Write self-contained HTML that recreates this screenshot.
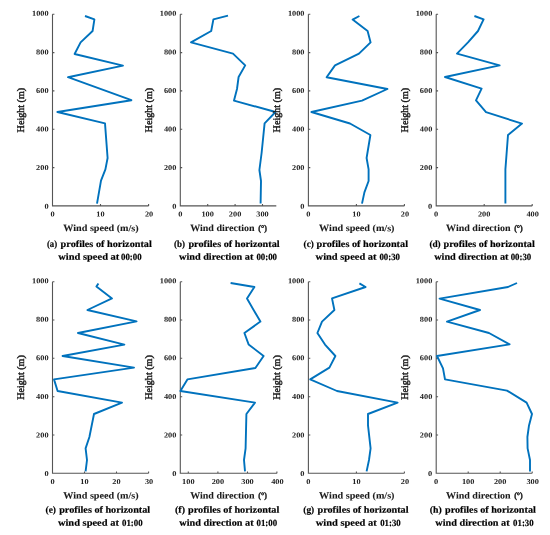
<!DOCTYPE html>
<html lang="en"><head><meta charset="utf-8"><title>Wind profiles</title>
<style>
html,body{margin:0;padding:0;background:#fff;}
body{width:550px;height:535px;overflow:hidden;}
svg{display:block;}
text{font-family:"Liberation Serif","DejaVu Serif",serif;fill:#1a1a1a;text-rendering:geometricPrecision;}
.tk{font-size:7.5px;font-weight:bold;fill:#222;}
.xl{font-size:9.4px;font-weight:bold;fill:#1a1a1a;stroke:#1a1a1a;stroke-width:0.08px;}
.yl{font-size:10px;stroke:#1a1a1a;stroke-width:0.45px;}
.cp{font-size:9.5px;font-weight:bold;fill:#000;stroke:#000;stroke-width:0.18px;}
.ax{stroke:#555555;stroke-width:1.1;fill:none;}
.ln{stroke:#0072bd;stroke-width:1.9;fill:none;stroke-linejoin:round;stroke-linecap:butt;}
</style></head><body>
<svg width="550" height="535" viewBox="0 0 550 535">
<rect width="550" height="535" fill="#fff"/>
<g>
<path class="ax" d="M52.5 14.3V205.9H148.6M52.5 205.9h1.9M52.5 167.6h1.9M52.5 129.3h1.9M52.5 90.9h1.9M52.5 52.6h1.9M52.5 14.3h1.9M52.5 205.9v-1.9M100.5 205.9v-1.9M148.6 205.9v-1.9"/>
<text class="tk" x="48.6" y="208.7" transform="rotate(0.03 48.6 208.7)" text-anchor="end" textLength="4.2" lengthAdjust="spacingAndGlyphs">0</text>
<text class="tk" x="48.6" y="170.1" transform="rotate(0.03 48.6 170.1)" text-anchor="end" textLength="12.5" lengthAdjust="spacingAndGlyphs">200</text>
<text class="tk" x="48.6" y="131.5" transform="rotate(0.03 48.6 131.5)" text-anchor="end" textLength="12.5" lengthAdjust="spacingAndGlyphs">400</text>
<text class="tk" x="48.6" y="92.9" transform="rotate(0.03 48.6 92.9)" text-anchor="end" textLength="12.5" lengthAdjust="spacingAndGlyphs">600</text>
<text class="tk" x="48.6" y="54.4" transform="rotate(0.03 48.6 54.4)" text-anchor="end" textLength="12.5" lengthAdjust="spacingAndGlyphs">800</text>
<text class="tk" x="48.6" y="15.8" transform="rotate(0.03 48.6 15.8)" text-anchor="end" textLength="16.6" lengthAdjust="spacingAndGlyphs">1000</text>
<text class="tk" x="52.5" y="216.6" transform="rotate(0.03 52.5 216.6)" text-anchor="middle" textLength="4.2" lengthAdjust="spacingAndGlyphs">0</text>
<text class="tk" x="100.5" y="216.6" transform="rotate(0.03 100.5 216.6)" text-anchor="middle" textLength="8.3" lengthAdjust="spacingAndGlyphs">10</text>
<text class="tk" x="149.1" y="216.6" transform="rotate(0.03 149.1 216.6)" text-anchor="middle" textLength="8.3" lengthAdjust="spacingAndGlyphs">20</text>
<text class="xl" x="63.3" y="231.1" transform="rotate(0.03 63.3 231.1)" textLength="75.4" lengthAdjust="spacingAndGlyphs">Wind speed (m/s)</text>
<text class="yl" transform="translate(24.0 110.1) rotate(-90)" text-anchor="middle" textLength="44.6" lengthAdjust="spacingAndGlyphs">Height (m)</text>
<text class="cp" x="46.9" y="246.9" transform="rotate(0.03 46.9 246.9)" textLength="10.2" lengthAdjust="spacingAndGlyphs">(a)</text>
<text class="cp" x="60.6" y="246.9" transform="rotate(0.03 60.6 246.9)" textLength="91.2" lengthAdjust="spacingAndGlyphs">profiles of horizontal</text>
<text class="cp" x="58.3" y="259.7" transform="rotate(0.03 58.3 259.7)" textLength="61.0" lengthAdjust="spacingAndGlyphs">wind speed at</text>
<text class="cp" x="121.0" y="259.7" transform="rotate(0.03 121.0 259.7)" textLength="20.6" lengthAdjust="spacingAndGlyphs">00:00</text>
<polyline class="ln" points="85.0,16.0 94.4,19.4 92.6,31.0 80.6,42.4 74.6,54.0 123.0,65.6 68.0,77.2 131.4,100.2 57.4,112.0 105.0,123.4 107.6,158.0 105.4,169.4 101.0,180.6 97.0,203.6"/>
</g>
<g>
<path class="ax" d="M180.3 14.3V205.9H276.3M180.3 205.9h1.9M180.3 167.6h1.9M180.3 129.3h1.9M180.3 90.9h1.9M180.3 52.6h1.9M180.3 14.3h1.9M180.3 205.9v-1.9M207.7 205.9v-1.9M235.1 205.9v-1.9M262.5 205.9v-1.9"/>
<text class="tk" x="176.4" y="208.7" transform="rotate(0.03 176.4 208.7)" text-anchor="end" textLength="4.2" lengthAdjust="spacingAndGlyphs">0</text>
<text class="tk" x="176.4" y="170.1" transform="rotate(0.03 176.4 170.1)" text-anchor="end" textLength="12.5" lengthAdjust="spacingAndGlyphs">200</text>
<text class="tk" x="176.4" y="131.5" transform="rotate(0.03 176.4 131.5)" text-anchor="end" textLength="12.5" lengthAdjust="spacingAndGlyphs">400</text>
<text class="tk" x="176.4" y="92.9" transform="rotate(0.03 176.4 92.9)" text-anchor="end" textLength="12.5" lengthAdjust="spacingAndGlyphs">600</text>
<text class="tk" x="176.4" y="54.4" transform="rotate(0.03 176.4 54.4)" text-anchor="end" textLength="12.5" lengthAdjust="spacingAndGlyphs">800</text>
<text class="tk" x="176.4" y="15.8" transform="rotate(0.03 176.4 15.8)" text-anchor="end" textLength="16.6" lengthAdjust="spacingAndGlyphs">1000</text>
<text class="tk" x="180.3" y="216.6" transform="rotate(0.03 180.3 216.6)" text-anchor="middle" textLength="4.2" lengthAdjust="spacingAndGlyphs">0</text>
<text class="tk" x="207.7" y="216.6" transform="rotate(0.03 207.7 216.6)" text-anchor="middle" textLength="12.5" lengthAdjust="spacingAndGlyphs">100</text>
<text class="tk" x="235.1" y="216.6" transform="rotate(0.03 235.1 216.6)" text-anchor="middle" textLength="12.5" lengthAdjust="spacingAndGlyphs">200</text>
<text class="tk" x="262.5" y="216.6" transform="rotate(0.03 262.5 216.6)" text-anchor="middle" textLength="12.5" lengthAdjust="spacingAndGlyphs">300</text>
<text class="xl" x="190.2" y="231.1" transform="rotate(0.03 190.2 231.1)" textLength="64.4" lengthAdjust="spacingAndGlyphs">Wind direction</text>
<text class="xl" x="258.3" y="230.9" transform="rotate(0.03 258.3 230.9)" style="font-size:8.6px;stroke-width:0.4px" textLength="8.6" lengthAdjust="spacingAndGlyphs">(°)</text>
<text class="yl" transform="translate(151.8 110.1) rotate(-90)" text-anchor="middle" textLength="44.6" lengthAdjust="spacingAndGlyphs">Height (m)</text>
<text class="cp" x="174.0" y="246.9" transform="rotate(0.03 174.0 246.9)" textLength="11.0" lengthAdjust="spacingAndGlyphs">(b)</text>
<text class="cp" x="188.4" y="246.9" transform="rotate(0.03 188.4 246.9)" textLength="91.2" lengthAdjust="spacingAndGlyphs">profiles of horizontal</text>
<text class="cp" x="179.0" y="259.7" transform="rotate(0.03 179.0 259.7)" textLength="74.3" lengthAdjust="spacingAndGlyphs">wind direction at</text>
<text class="cp" x="256.4" y="259.7" transform="rotate(0.03 256.4 259.7)" textLength="20.6" lengthAdjust="spacingAndGlyphs">00:00</text>
<polyline class="ln" points="228.0,15.6 213.4,19.4 211.2,31.0 191.0,42.4 233.0,53.6 245.2,65.4 238.6,77.0 237.0,89.0 234.0,100.6 275.5,112.0 264.6,123.4 261.6,153.0 259.4,170.0 261.0,181.0 260.6,203.6"/>
</g>
<g>
<path class="ax" d="M308.4 14.3V205.9H404.4M308.4 205.9h1.9M308.4 167.6h1.9M308.4 129.3h1.9M308.4 90.9h1.9M308.4 52.6h1.9M308.4 14.3h1.9M308.4 205.9v-1.9M356.4 205.9v-1.9M404.4 205.9v-1.9"/>
<text class="tk" x="304.5" y="208.7" transform="rotate(0.03 304.5 208.7)" text-anchor="end" textLength="4.2" lengthAdjust="spacingAndGlyphs">0</text>
<text class="tk" x="304.5" y="170.1" transform="rotate(0.03 304.5 170.1)" text-anchor="end" textLength="12.5" lengthAdjust="spacingAndGlyphs">200</text>
<text class="tk" x="304.5" y="131.5" transform="rotate(0.03 304.5 131.5)" text-anchor="end" textLength="12.5" lengthAdjust="spacingAndGlyphs">400</text>
<text class="tk" x="304.5" y="92.9" transform="rotate(0.03 304.5 92.9)" text-anchor="end" textLength="12.5" lengthAdjust="spacingAndGlyphs">600</text>
<text class="tk" x="304.5" y="54.4" transform="rotate(0.03 304.5 54.4)" text-anchor="end" textLength="12.5" lengthAdjust="spacingAndGlyphs">800</text>
<text class="tk" x="304.5" y="15.8" transform="rotate(0.03 304.5 15.8)" text-anchor="end" textLength="16.6" lengthAdjust="spacingAndGlyphs">1000</text>
<text class="tk" x="308.4" y="216.6" transform="rotate(0.03 308.4 216.6)" text-anchor="middle" textLength="4.2" lengthAdjust="spacingAndGlyphs">0</text>
<text class="tk" x="356.4" y="216.6" transform="rotate(0.03 356.4 216.6)" text-anchor="middle" textLength="8.3" lengthAdjust="spacingAndGlyphs">10</text>
<text class="tk" x="404.9" y="216.6" transform="rotate(0.03 404.9 216.6)" text-anchor="middle" textLength="8.3" lengthAdjust="spacingAndGlyphs">20</text>
<text class="xl" x="319.1" y="231.1" transform="rotate(0.03 319.1 231.1)" textLength="75.4" lengthAdjust="spacingAndGlyphs">Wind speed (m/s)</text>
<text class="yl" transform="translate(279.9 110.1) rotate(-90)" text-anchor="middle" textLength="44.6" lengthAdjust="spacingAndGlyphs">Height (m)</text>
<text class="cp" x="303.6" y="246.9" transform="rotate(0.03 303.6 246.9)" textLength="10.2" lengthAdjust="spacingAndGlyphs">(c)</text>
<text class="cp" x="316.6" y="246.9" transform="rotate(0.03 316.6 246.9)" textLength="91.4" lengthAdjust="spacingAndGlyphs">profiles of horizontal</text>
<text class="cp" x="315.6" y="259.7" transform="rotate(0.03 315.6 259.7)" textLength="61.0" lengthAdjust="spacingAndGlyphs">wind speed at</text>
<text class="cp" x="379.4" y="259.7" transform="rotate(0.03 379.4 259.7)" textLength="20.6" lengthAdjust="spacingAndGlyphs">00:30</text>
<polyline class="ln" points="359.4,16.0 352.6,19.6 367.6,31.0 370.6,42.4 359.0,53.6 335.0,65.4 326.6,77.2 387.4,89.0 362.0,100.6 311.4,112.0 350.0,123.5 370.4,135.0 366.6,158.0 368.6,169.4 368.6,181.0 364.4,192.4 362.0,203.6"/>
</g>
<g>
<path class="ax" d="M436.2 14.3V205.9H532.2M436.2 205.9h1.9M436.2 167.6h1.9M436.2 129.3h1.9M436.2 90.9h1.9M436.2 52.6h1.9M436.2 14.3h1.9M436.2 205.9v-1.9M484.2 205.9v-1.9M532.2 205.9v-1.9"/>
<text class="tk" x="432.3" y="208.7" transform="rotate(0.03 432.3 208.7)" text-anchor="end" textLength="4.2" lengthAdjust="spacingAndGlyphs">0</text>
<text class="tk" x="432.3" y="170.1" transform="rotate(0.03 432.3 170.1)" text-anchor="end" textLength="12.5" lengthAdjust="spacingAndGlyphs">200</text>
<text class="tk" x="432.3" y="131.5" transform="rotate(0.03 432.3 131.5)" text-anchor="end" textLength="12.5" lengthAdjust="spacingAndGlyphs">400</text>
<text class="tk" x="432.3" y="92.9" transform="rotate(0.03 432.3 92.9)" text-anchor="end" textLength="12.5" lengthAdjust="spacingAndGlyphs">600</text>
<text class="tk" x="432.3" y="54.4" transform="rotate(0.03 432.3 54.4)" text-anchor="end" textLength="12.5" lengthAdjust="spacingAndGlyphs">800</text>
<text class="tk" x="432.3" y="15.8" transform="rotate(0.03 432.3 15.8)" text-anchor="end" textLength="16.6" lengthAdjust="spacingAndGlyphs">1000</text>
<text class="tk" x="436.2" y="216.6" transform="rotate(0.03 436.2 216.6)" text-anchor="middle" textLength="4.2" lengthAdjust="spacingAndGlyphs">0</text>
<text class="tk" x="484.2" y="216.6" transform="rotate(0.03 484.2 216.6)" text-anchor="middle" textLength="12.5" lengthAdjust="spacingAndGlyphs">200</text>
<text class="tk" x="532.7" y="216.6" transform="rotate(0.03 532.7 216.6)" text-anchor="middle" textLength="12.5" lengthAdjust="spacingAndGlyphs">400</text>
<text class="xl" x="446.1" y="231.1" transform="rotate(0.03 446.1 231.1)" textLength="64.4" lengthAdjust="spacingAndGlyphs">Wind direction</text>
<text class="xl" x="514.2" y="230.9" transform="rotate(0.03 514.2 230.9)" style="font-size:8.6px;stroke-width:0.4px" textLength="8.6" lengthAdjust="spacingAndGlyphs">(°)</text>
<text class="yl" transform="translate(407.7 110.1) rotate(-90)" text-anchor="middle" textLength="44.6" lengthAdjust="spacingAndGlyphs">Height (m)</text>
<text class="cp" x="429.4" y="246.9" transform="rotate(0.03 429.4 246.9)" textLength="11.3" lengthAdjust="spacingAndGlyphs">(d)</text>
<text class="cp" x="443.5" y="246.9" transform="rotate(0.03 443.5 246.9)" textLength="91.3" lengthAdjust="spacingAndGlyphs">profiles of horizontal</text>
<text class="cp" x="434.2" y="259.7" transform="rotate(0.03 434.2 259.7)" textLength="74.3" lengthAdjust="spacingAndGlyphs">wind direction at</text>
<text class="cp" x="510.7" y="259.7" transform="rotate(0.03 510.7 259.7)" textLength="20.6" lengthAdjust="spacingAndGlyphs">00:30</text>
<polyline class="ln" points="474.4,16.0 483.6,19.4 478.0,31.0 468.0,42.4 457.0,53.6 499.6,65.4 445.0,77.0 481.6,88.6 476.0,100.4 486.0,112.2 522.0,123.6 508.0,135.0 505.4,169.4 505.4,203.6"/>
</g>
<g>
<path class="ax" d="M52.5 281.7V473.3H148.6M52.5 473.3h1.9M52.5 435.0h1.9M52.5 396.7h1.9M52.5 358.3h1.9M52.5 320.0h1.9M52.5 281.7h1.9M52.5 473.3v-1.9M84.5 473.3v-1.9M116.5 473.3v-1.9M148.6 473.3v-1.9"/>
<text class="tk" x="48.6" y="476.1" transform="rotate(0.03 48.6 476.1)" text-anchor="end" textLength="4.2" lengthAdjust="spacingAndGlyphs">0</text>
<text class="tk" x="48.6" y="437.5" transform="rotate(0.03 48.6 437.5)" text-anchor="end" textLength="12.5" lengthAdjust="spacingAndGlyphs">200</text>
<text class="tk" x="48.6" y="398.9" transform="rotate(0.03 48.6 398.9)" text-anchor="end" textLength="12.5" lengthAdjust="spacingAndGlyphs">400</text>
<text class="tk" x="48.6" y="360.3" transform="rotate(0.03 48.6 360.3)" text-anchor="end" textLength="12.5" lengthAdjust="spacingAndGlyphs">600</text>
<text class="tk" x="48.6" y="321.8" transform="rotate(0.03 48.6 321.8)" text-anchor="end" textLength="12.5" lengthAdjust="spacingAndGlyphs">800</text>
<text class="tk" x="48.6" y="283.2" transform="rotate(0.03 48.6 283.2)" text-anchor="end" textLength="16.6" lengthAdjust="spacingAndGlyphs">1000</text>
<text class="tk" x="52.5" y="484.0" transform="rotate(0.03 52.5 484.0)" text-anchor="middle" textLength="4.2" lengthAdjust="spacingAndGlyphs">0</text>
<text class="tk" x="84.5" y="484.0" transform="rotate(0.03 84.5 484.0)" text-anchor="middle" textLength="8.3" lengthAdjust="spacingAndGlyphs">10</text>
<text class="tk" x="116.5" y="484.0" transform="rotate(0.03 116.5 484.0)" text-anchor="middle" textLength="8.3" lengthAdjust="spacingAndGlyphs">20</text>
<text class="tk" x="149.1" y="484.0" transform="rotate(0.03 149.1 484.0)" text-anchor="middle" textLength="8.3" lengthAdjust="spacingAndGlyphs">30</text>
<text class="xl" x="63.3" y="498.5" transform="rotate(0.03 63.3 498.5)" textLength="75.4" lengthAdjust="spacingAndGlyphs">Wind speed (m/s)</text>
<text class="yl" transform="translate(24.0 377.5) rotate(-90)" text-anchor="middle" textLength="44.6" lengthAdjust="spacingAndGlyphs">Height (m)</text>
<text class="cp" x="45.5" y="512.7" transform="rotate(0.03 45.5 512.7)" textLength="10.5" lengthAdjust="spacingAndGlyphs">(e)</text>
<text class="cp" x="59.2" y="512.7" transform="rotate(0.03 59.2 512.7)" textLength="91.0" lengthAdjust="spacingAndGlyphs">profiles of horizontal</text>
<text class="cp" x="57.9" y="525.7" transform="rotate(0.03 57.9 525.7)" textLength="61.0" lengthAdjust="spacingAndGlyphs">wind speed at</text>
<text class="cp" x="122.0" y="525.7" transform="rotate(0.03 122.0 525.7)" textLength="20.6" lengthAdjust="spacingAndGlyphs">01:00</text>
<polyline class="ln" points="98.4,283.4 96.4,286.6 112.0,298.4 87.4,310.0 136.6,321.4 78.0,333.0 124.4,344.6 62.6,356.0 134.0,367.6 54.0,379.4 57.6,391.0 122.0,402.6 94.0,414.0 89.4,437.0 85.6,448.4 87.0,460.0 85.6,471.4"/>
</g>
<g>
<path class="ax" d="M180.3 281.7V473.3H277.1M180.3 473.3h1.9M180.3 435.0h1.9M180.3 396.7h1.9M180.3 358.3h1.9M180.3 320.0h1.9M180.3 281.7h1.9M188.3 473.3v-1.9M217.9 473.3v-1.9M247.5 473.3v-1.9M276.9 473.3v-1.9"/>
<text class="tk" x="176.4" y="476.1" transform="rotate(0.03 176.4 476.1)" text-anchor="end" textLength="4.2" lengthAdjust="spacingAndGlyphs">0</text>
<text class="tk" x="176.4" y="437.5" transform="rotate(0.03 176.4 437.5)" text-anchor="end" textLength="12.5" lengthAdjust="spacingAndGlyphs">200</text>
<text class="tk" x="176.4" y="398.9" transform="rotate(0.03 176.4 398.9)" text-anchor="end" textLength="12.5" lengthAdjust="spacingAndGlyphs">400</text>
<text class="tk" x="176.4" y="360.3" transform="rotate(0.03 176.4 360.3)" text-anchor="end" textLength="12.5" lengthAdjust="spacingAndGlyphs">600</text>
<text class="tk" x="176.4" y="321.8" transform="rotate(0.03 176.4 321.8)" text-anchor="end" textLength="12.5" lengthAdjust="spacingAndGlyphs">800</text>
<text class="tk" x="176.4" y="283.2" transform="rotate(0.03 176.4 283.2)" text-anchor="end" textLength="16.6" lengthAdjust="spacingAndGlyphs">1000</text>
<text class="tk" x="188.3" y="484.0" transform="rotate(0.03 188.3 484.0)" text-anchor="middle" textLength="12.5" lengthAdjust="spacingAndGlyphs">100</text>
<text class="tk" x="217.9" y="484.0" transform="rotate(0.03 217.9 484.0)" text-anchor="middle" textLength="12.5" lengthAdjust="spacingAndGlyphs">200</text>
<text class="tk" x="247.5" y="484.0" transform="rotate(0.03 247.5 484.0)" text-anchor="middle" textLength="12.5" lengthAdjust="spacingAndGlyphs">300</text>
<text class="tk" x="277.4" y="484.0" transform="rotate(0.03 277.4 484.0)" text-anchor="middle" textLength="12.5" lengthAdjust="spacingAndGlyphs">400</text>
<text class="xl" x="190.2" y="498.5" transform="rotate(0.03 190.2 498.5)" textLength="64.4" lengthAdjust="spacingAndGlyphs">Wind direction</text>
<text class="xl" x="258.3" y="498.3" transform="rotate(0.03 258.3 498.3)" style="font-size:8.6px;stroke-width:0.4px" textLength="8.6" lengthAdjust="spacingAndGlyphs">(°)</text>
<text class="yl" transform="translate(151.8 377.5) rotate(-90)" text-anchor="middle" textLength="44.6" lengthAdjust="spacingAndGlyphs">Height (m)</text>
<text class="cp" x="175.0" y="512.7" transform="rotate(0.03 175.0 512.7)" textLength="10.0" lengthAdjust="spacingAndGlyphs">(f)</text>
<text class="cp" x="188.0" y="512.7" transform="rotate(0.03 188.0 512.7)" textLength="91.3" lengthAdjust="spacingAndGlyphs">profiles of horizontal</text>
<text class="cp" x="179.3" y="525.7" transform="rotate(0.03 179.3 525.7)" textLength="74.3" lengthAdjust="spacingAndGlyphs">wind direction at</text>
<text class="cp" x="256.5" y="525.7" transform="rotate(0.03 256.5 525.7)" textLength="20.6" lengthAdjust="spacingAndGlyphs">01:00</text>
<polyline class="ln" points="230.6,283.0 254.4,287.0 247.0,298.6 260.4,321.6 244.4,333.0 248.6,344.4 263.6,356.0 255.4,368.0 187.4,379.4 180.4,391.0 255.0,402.6 246.4,414.0 245.6,448.4 244.0,460.0 245.0,471.4"/>
</g>
<g>
<path class="ax" d="M308.4 281.7V473.3H404.4M308.4 473.3h1.9M308.4 435.0h1.9M308.4 396.7h1.9M308.4 358.3h1.9M308.4 320.0h1.9M308.4 281.7h1.9M308.4 473.3v-1.9M356.4 473.3v-1.9M404.4 473.3v-1.9"/>
<text class="tk" x="304.5" y="476.1" transform="rotate(0.03 304.5 476.1)" text-anchor="end" textLength="4.2" lengthAdjust="spacingAndGlyphs">0</text>
<text class="tk" x="304.5" y="437.5" transform="rotate(0.03 304.5 437.5)" text-anchor="end" textLength="12.5" lengthAdjust="spacingAndGlyphs">200</text>
<text class="tk" x="304.5" y="398.9" transform="rotate(0.03 304.5 398.9)" text-anchor="end" textLength="12.5" lengthAdjust="spacingAndGlyphs">400</text>
<text class="tk" x="304.5" y="360.3" transform="rotate(0.03 304.5 360.3)" text-anchor="end" textLength="12.5" lengthAdjust="spacingAndGlyphs">600</text>
<text class="tk" x="304.5" y="321.8" transform="rotate(0.03 304.5 321.8)" text-anchor="end" textLength="12.5" lengthAdjust="spacingAndGlyphs">800</text>
<text class="tk" x="304.5" y="283.2" transform="rotate(0.03 304.5 283.2)" text-anchor="end" textLength="16.6" lengthAdjust="spacingAndGlyphs">1000</text>
<text class="tk" x="308.4" y="484.0" transform="rotate(0.03 308.4 484.0)" text-anchor="middle" textLength="4.2" lengthAdjust="spacingAndGlyphs">0</text>
<text class="tk" x="356.4" y="484.0" transform="rotate(0.03 356.4 484.0)" text-anchor="middle" textLength="8.3" lengthAdjust="spacingAndGlyphs">10</text>
<text class="tk" x="404.9" y="484.0" transform="rotate(0.03 404.9 484.0)" text-anchor="middle" textLength="8.3" lengthAdjust="spacingAndGlyphs">20</text>
<text class="xl" x="319.1" y="498.5" transform="rotate(0.03 319.1 498.5)" textLength="75.4" lengthAdjust="spacingAndGlyphs">Wind speed (m/s)</text>
<text class="yl" transform="translate(279.9 377.5) rotate(-90)" text-anchor="middle" textLength="44.6" lengthAdjust="spacingAndGlyphs">Height (m)</text>
<text class="cp" x="303.3" y="512.7" transform="rotate(0.03 303.3 512.7)" textLength="10.9" lengthAdjust="spacingAndGlyphs">(g)</text>
<text class="cp" x="317.5" y="512.7" transform="rotate(0.03 317.5 512.7)" textLength="91.0" lengthAdjust="spacingAndGlyphs">profiles of horizontal</text>
<text class="cp" x="315.7" y="525.7" transform="rotate(0.03 315.7 525.7)" textLength="61.0" lengthAdjust="spacingAndGlyphs">wind speed at</text>
<text class="cp" x="380.2" y="525.7" transform="rotate(0.03 380.2 525.7)" textLength="20.6" lengthAdjust="spacingAndGlyphs">01:30</text>
<polyline class="ln" points="359.4,283.4 365.6,287.0 332.0,298.4 334.4,310.0 322.0,321.6 317.4,333.0 325.0,344.6 335.4,356.0 329.4,367.6 310.2,379.4 337.0,391.0 397.6,402.6 368.0,414.0 368.0,425.4 370.6,448.4 369.0,460.0 366.6,471.4"/>
</g>
<g>
<path class="ax" d="M436.2 281.7V473.3H532.2M436.2 473.3h1.9M436.2 435.0h1.9M436.2 396.7h1.9M436.2 358.3h1.9M436.2 320.0h1.9M436.2 281.7h1.9M436.2 473.3v-1.9M468.2 473.3v-1.9M500.2 473.3v-1.9M532.2 473.3v-1.9"/>
<text class="tk" x="432.3" y="476.1" transform="rotate(0.03 432.3 476.1)" text-anchor="end" textLength="4.2" lengthAdjust="spacingAndGlyphs">0</text>
<text class="tk" x="432.3" y="437.5" transform="rotate(0.03 432.3 437.5)" text-anchor="end" textLength="12.5" lengthAdjust="spacingAndGlyphs">200</text>
<text class="tk" x="432.3" y="398.9" transform="rotate(0.03 432.3 398.9)" text-anchor="end" textLength="12.5" lengthAdjust="spacingAndGlyphs">400</text>
<text class="tk" x="432.3" y="360.3" transform="rotate(0.03 432.3 360.3)" text-anchor="end" textLength="12.5" lengthAdjust="spacingAndGlyphs">600</text>
<text class="tk" x="432.3" y="321.8" transform="rotate(0.03 432.3 321.8)" text-anchor="end" textLength="12.5" lengthAdjust="spacingAndGlyphs">800</text>
<text class="tk" x="432.3" y="283.2" transform="rotate(0.03 432.3 283.2)" text-anchor="end" textLength="16.6" lengthAdjust="spacingAndGlyphs">1000</text>
<text class="tk" x="436.2" y="484.0" transform="rotate(0.03 436.2 484.0)" text-anchor="middle" textLength="4.2" lengthAdjust="spacingAndGlyphs">0</text>
<text class="tk" x="468.2" y="484.0" transform="rotate(0.03 468.2 484.0)" text-anchor="middle" textLength="12.5" lengthAdjust="spacingAndGlyphs">100</text>
<text class="tk" x="500.2" y="484.0" transform="rotate(0.03 500.2 484.0)" text-anchor="middle" textLength="12.5" lengthAdjust="spacingAndGlyphs">200</text>
<text class="tk" x="532.7" y="484.0" transform="rotate(0.03 532.7 484.0)" text-anchor="middle" textLength="12.5" lengthAdjust="spacingAndGlyphs">300</text>
<text class="xl" x="446.1" y="498.5" transform="rotate(0.03 446.1 498.5)" textLength="64.4" lengthAdjust="spacingAndGlyphs">Wind direction</text>
<text class="xl" x="514.2" y="498.3" transform="rotate(0.03 514.2 498.3)" style="font-size:8.6px;stroke-width:0.4px" textLength="8.6" lengthAdjust="spacingAndGlyphs">(°)</text>
<text class="yl" transform="translate(407.7 377.5) rotate(-90)" text-anchor="middle" textLength="44.6" lengthAdjust="spacingAndGlyphs">Height (m)</text>
<text class="cp" x="429.8" y="512.7" transform="rotate(0.03 429.8 512.7)" textLength="12.0" lengthAdjust="spacingAndGlyphs">(h)</text>
<text class="cp" x="445.0" y="512.7" transform="rotate(0.03 445.0 512.7)" textLength="90.8" lengthAdjust="spacingAndGlyphs">profiles of horizontal</text>
<text class="cp" x="435.3" y="525.7" transform="rotate(0.03 435.3 525.7)" textLength="74.3" lengthAdjust="spacingAndGlyphs">wind direction at</text>
<text class="cp" x="513.1" y="525.7" transform="rotate(0.03 513.1 525.7)" textLength="20.6" lengthAdjust="spacingAndGlyphs">01:30</text>
<polyline class="ln" points="517.0,283.0 508.0,287.0 439.6,298.6 480.0,310.0 447.0,321.6 489.0,333.0 509.6,344.4 437.0,356.0 443.0,368.4 445.0,379.4 507.0,390.6 526.6,402.6 532.0,414.0 529.0,425.4 527.4,437.0 527.6,448.4 530.0,460.0 530.0,471.4"/>
</g>
</svg>
</body></html>
